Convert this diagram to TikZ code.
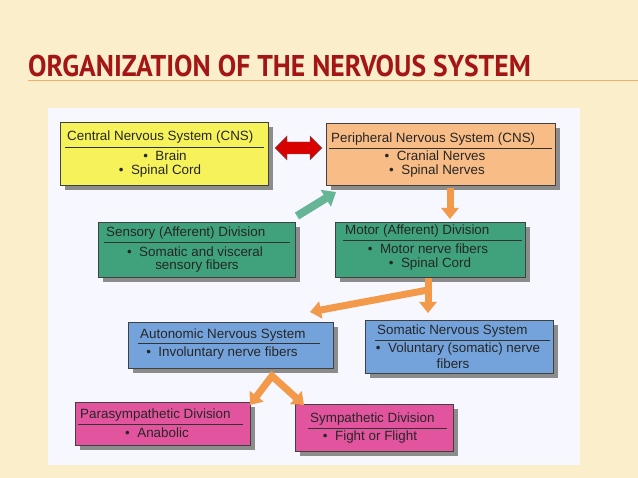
\documentclass[tikz,border=0pt]{standalone}
\usepackage{fontspec}
\setmainfont{Liberation Sans}
\newfontfamily\titlefont{PT Sans}
\usetikzlibrary{arrows.meta}
\definecolor{slide}{HTML}{FBEFCB}
\definecolor{cyel}{HTML}{F6F25A}
\definecolor{corg}{HTML}{F8BC86}
\definecolor{cgrn}{HTML}{3FA27C}
\definecolor{cblu}{HTML}{74A3DC}
\definecolor{cpnk}{HTML}{E2559E}
\definecolor{arr}{HTML}{F2994A}
\definecolor{ttl}{HTML}{A41616}
\tikzset{
 panel/.style={draw=black!75,line width=0.9pt,anchor=north west,inner sep=0pt},
 shade/.style={fill=black!45,anchor=north west,inner sep=0pt},
 txt/.style={font=\fontsize{13.4}{15}\selectfont,text=black!85,inner sep=0pt},
 fat/.style={line width=7pt,arr,-{Triangle[length=11pt,width=17pt]}},
}
\newcommand{\boxat}[6]{% name, x, y, w, h, color
 \node[shade,minimum width=#4pt,minimum height=#5pt] at (#2+5,#3+5) {};
 \node[panel,fill=#6,minimum width=#4pt,minimum height=#5pt] (#1) at (#2,#3) {};}
\begin{document}
\begin{tikzpicture}[x=1pt,y=-1pt]
\useasboundingbox (0,0) rectangle (638,478);
\fill[slide] (0,0) rectangle (638,478);
\node[anchor=base west,inner sep=0pt,text=ttl,font=\titlefont\bfseries\fontsize{30}{32}\selectfont,xscale=0.92] (title) at (28,77) {ORGANIZATION OF THE NERVOUS SYSTEM};
\draw[arr!80,line width=0.8pt] (28,80) -- (638,80);
\fill[white!97!blue] (48,108) rectangle (580,465);
% boxes
\boxat{cns}{60}{122}{208}{63}{cyel}
\boxat{pns}{326}{123}{229}{62}{corg}
\boxat{sen}{98}{222}{197}{55}{cgrn}
\boxat{mot}{335}{222}{190}{55}{cgrn}
\boxat{aut}{128}{322}{205}{46}{cblu}
\boxat{som}{365}{320}{188}{53}{cblu}
\boxat{par}{75}{402}{175}{43}{cpnk}
\boxat{sym}{295}{404}{158}{47}{cpnk}
% texts
\node[txt,anchor=west] (t1) at (67,137) {Central Nervous System (CNS)};
\draw[black!80] (65,147) -- (264,147);
\node[txt] (t1a) at (165,156) {•\ \ Brain};
\node[txt] (t1b) at (160,171) {•\ \ Spinal Cord};
\node[txt,anchor=west] (t2) at (331,139) {Peripheral Nervous System (CNS)};
\draw[black!80] (329,148) -- (552,148);
\node[txt] (t2a) at (435,156) {•\ \ Cranial Nerves};
\node[txt] (t2b) at (437,171) {•\ \ Spinal Nerves};
\node[txt,anchor=west] (t3) at (106,233) {Sensory (Afferent) Division};
\draw[black!80] (104,242) -- (290,242);
\node[txt] (t3a) at (195,252) {•\ \ Somatic and visceral};
\node[txt] (t3b) at (197,266) {sensory fibers};
\node[txt,anchor=west] (t4) at (345,231) {Motor (Afferent) Division};
\draw[black!80] (343,240) -- (522,240);
\node[txt] (t4a) at (428,249) {•\ \ Motor nerve fibers};
\node[txt] (t4b) at (430,264) {•\ \ Spinal Cord};
\node[txt,anchor=west] (t5) at (140,335) {Autonomic Nervous System};
\draw[black!80] (138,343) -- (320,343);
\node[txt] (t5a) at (222,353) {•\ \ Involuntary nerve fibers};
\node[txt,anchor=west] (t6) at (377,331) {Somatic Nervous System};
\draw[black!80] (375,340) -- (550,340);
\node[txt] (t6a) at (458,349) {•\ \ Voluntary (somatic) nerve};
\node[txt] (t6b) at (453,364) {fibers};
\node[txt,anchor=west] (t7) at (80,415) {Parasympathetic Division};
\draw[black!80] (78,424) -- (243,424);
\node[txt] (t7a) at (157,433) {•\ \ Anabolic};
\node[txt,anchor=west] (t8) at (310,419) {Sympathetic Division};
\draw[black!80] (308,428) -- (447,428);
\node[txt] (t8a) at (370,437) {•\ \ Fight or Flight};
% arrows
\fill[red!85!black,draw=black!60] (275,148) -- (287,136) -- (287,142) -- (310,142) -- (310,136) -- (322,148) -- (310,160) -- (310,154) -- (287,154) -- (287,160) -- cycle;
\coordinate (g0) at (297,216);
\draw[line width=8pt,cgrn!80!white,-{Triangle[length=12pt,width=19pt]}] (g0) -- (336,192);
\coordinate (o0) at (450,188);
\draw[fat] (o0) -- (450,219);
\coordinate (o1) at (428,278);
\draw[fat] (o1) -- (428,313);
\draw[fat] (428,290) -- (310,312);
\coordinate (o2) at (272,376);
\draw[line width=7pt,arr,line join=miter,{Triangle[length=11pt,width=17pt]}-{Triangle[length=11pt,width=17pt]}] (250,405) -- (o2) -- (304,405);
\end{tikzpicture}
\end{document}
